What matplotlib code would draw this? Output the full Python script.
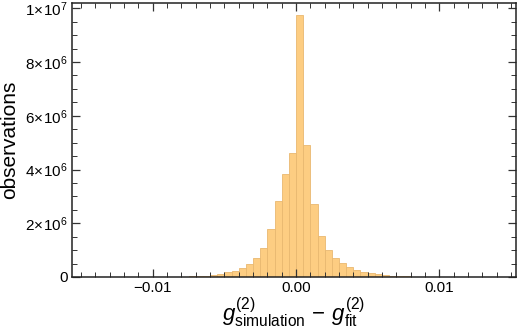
import numpy as np
import matplotlib
matplotlib.use("Agg")
import matplotlib.pyplot as plt
from matplotlib.ticker import FuncFormatter, MultipleLocator

plt.rcParams['font.family'] = ['Liberation Sans', 'DejaVu Sans']
plt.rcParams['mathtext.fontset'] = 'custom'
plt.rcParams['mathtext.rm'] = 'Liberation Sans'
plt.rcParams['mathtext.it'] = 'Liberation Sans:italic'
plt.rcParams['mathtext.bf'] = 'Liberation Sans:bold'

bin_width = 0.0005
bin_left = [-0.0100, -0.0095, -0.0090, -0.0085, -0.0080, -0.0075, -0.0070, -0.0065,
            -0.0060, -0.0055, -0.0050, -0.0045, -0.0040, -0.0035, -0.0030, -0.0025,
            -0.0020, -0.0015, -0.0010, -0.0005,
            0.0000, 0.0005, 0.0010, 0.0015, 0.0020, 0.0025, 0.0030, 0.0035,
            0.0040, 0.0045, 0.0050, 0.0055, 0.0060, 0.0065, 0.0070, 0.0075,
            0.0080, 0.0085, 0.0090, 0.0095]
counts = [0.002e6, 0.004e6, 0.007e6, 0.011e6, 0.017e6, 0.025e6, 0.036e6, 0.052e6,
          0.075e6, 0.11e6, 0.17e6, 0.23e6, 0.35e6, 0.47e6, 0.70e6, 1.07e6,
          1.78e6, 2.83e6, 3.83e6, 4.60e6,
          9.75e6, 4.91e6, 2.72e6, 1.53e6, 1.00e6, 0.70e6, 0.51e6, 0.38e6,
          0.26e6, 0.20e6, 0.14e6, 0.10e6, 0.07e6, 0.05e6, 0.035e6, 0.024e6,
          0.016e6, 0.010e6, 0.006e6, 0.003e6]

x_ticks = [-0.01, 0.0, 0.01]
y_ticks = [0, 2e6, 4e6, 6e6, 8e6, 1e7]

fig = plt.figure(figsize=(5.2, 3.28), dpi=100)
ax = fig.add_axes([72/520, 1-277/328, (516-72)/520, (277-2.7)/328])

ax.bar(bin_left, counts, width=bin_width, align='edge',
       facecolor='#FDCD82', edgecolor='#E9B870', linewidth=0.6)

ax.set_xlim(-0.01563, 0.01535)
ax.set_ylim(0, 1.0208e7)

ax.set_xticks(x_ticks)
ax.xaxis.set_minor_locator(MultipleLocator(0.001))
ax.set_yticks(y_ticks)
ax.yaxis.set_minor_locator(MultipleLocator(5e5))

def xfmt(v, pos):
    s = f"{v:.2f}"
    if abs(v) < 1e-12:
        s = "0.00"
    return s.replace('-', '\u2212')

def yfmt(v, pos):
    if v == 0:
        return "0"
    e = int(np.floor(np.log10(v) + 1e-9))
    m = v / 10**e
    return r'$%d\!\times\!10^{%d}$' % (round(m), e)

ax.xaxis.set_major_formatter(FuncFormatter(xfmt))
ax.yaxis.set_major_formatter(FuncFormatter(yfmt))

ax.tick_params(which='both', direction='in', top=True, right=True, labelsize=11,
               color='#333333')
ax.tick_params(which='major', length=6, width=0.9)
ax.tick_params(which='minor', length=3.5, width=0.7)
ax.tick_params(axis='x', pad=3)
ax.tick_params(axis='y', pad=3)
for sp in ax.spines.values():
    sp.set_linewidth(1.1)
    sp.set_color('#222222')

ax.set_ylabel('observations', fontsize=15, labelpad=4)
ax.set_xlabel(r'$g^{(2)}_{\mathrm{simulation}}\,-\,g^{(2)}_{\mathrm{fit}}$', fontsize=16)
ax.xaxis.set_label_coords(0.5, -0.067)

fig.savefig('out.png', dpi=100)
